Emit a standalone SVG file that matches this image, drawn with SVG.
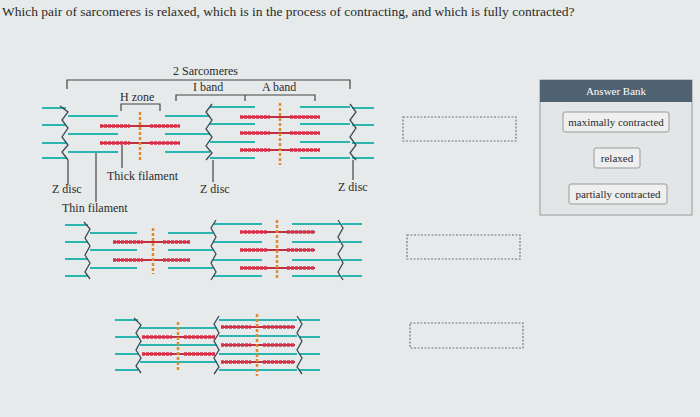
<svg xmlns="http://www.w3.org/2000/svg" width="700" height="417" viewBox="0 0 700 417">
<style>
text{font-family:"Liberation Serif",serif;fill:#2a2a2a}
.lbl{font-size:12px}
.br{fill:none;stroke:#444;stroke-width:1.2}
.thin{stroke:#2bb5b0;stroke-width:2.2}
.thick{stroke:#d8304a;stroke-width:3.6;stroke-dasharray:3 1}
.thickc{stroke:#c03040;stroke-width:1.8}
.m{stroke:#e08a30;stroke-width:2.5;stroke-dasharray:3 2}
.z{fill:none;stroke:#3a4a55;stroke-width:1.3}
.slot{fill:none;stroke:#777;stroke-width:1.2;stroke-dasharray:2 1.5}
.item{fill:#efefef;stroke:#999;stroke-width:1}
</style>
<rect width="700" height="417" fill="#e6eaeb"/>
<text x="2" y="16" font-size="13.5">Which pair of sarcomeres is relaxed, which is in the process of contracting, and which is fully contracted?</text>
<g id="labels">
<path class="br" d="M67 89V80H350V89M176 101V95H315V101M245 95V101M121 111V104H160V111"/>
<text class="lbl" x="173" y="75">2 Sarcomeres</text>
<text class="lbl" x="193" y="91">I band</text>
<text class="lbl" x="262" y="91">A band</text>
<text class="lbl" x="120" y="101">H zone</text>
<text class="lbl" x="107" y="180">Thick filament</text>
<text class="lbl" x="52" y="193">Z disc</text>
<text class="lbl" x="62" y="212">Thin filament</text>
<text class="lbl" x="200" y="193">Z disc</text>
<text class="lbl" x="338" y="191">Z disc</text>
<path class="br" d="M122 168V145M68 185V160M96 202V152M213 182V160M353 180V160"/>
</g>
<g id="sarcomere-top">
<path class="thin" d="M42 108H66M42 125H66M42 143H66M42 158H66M68 116H118M68 134H118M68 152H118M210 116H165M210 134H165M210 152H165M210 107H255M210 124H255M210 142H255M210 158H255M350 107H300M350 124H300M350 142H300M350 158H300M352 108H374M352 125H374M352 143H374M352 158H374"/>
<path class="thickc" d="M100 126H180M100 143H180M240 117H320M240 133H320M240 150H320"/>
<path class="thick" d="M100 126H130M150 126H180M100 143H130M150 143H180M240 117H270M290 117H320M240 133H270M290 133H320M240 150H270M290 150H320"/>
<path class="m" d="M140 112V162M280 103V165"/>
<path class="z" d="M60 106L68 112L62 120L68 128L62 137L68 145L62 152L68 160M212 104L206 112L212 120L206 129L212 137L206 146L212 153L206 160M350 104L356 112L350 120L356 128L350 137L356 145L350 153L356 160"/>
</g>
<g id="sarcomere-middle">
<path class="thin" d="M65 225H88M65 242H88M65 259H88M65 276H88M90 233H137M90 250H137M90 268H137M213 233H168M213 250H168M213 268H168M213 224H262M213 242H262M213 260H262M213 276H262M340 224H292M340 242H292M340 260H292M340 276H292M342 224H362M342 242H362M342 260H362M342 276H362"/>
<path class="thickc" d="M113 242H190M113 260H190M240 232H315M240 250H315M240 268H315"/>
<path class="thick" d="M113 242H143M163 242H190M113 260H143M163 260H190M240 232H268M287 232H315M240 250H268M287 250H315M240 268H268M287 268H315"/>
<path class="m" d="M153 228V274M277 220V280"/>
<path class="z" d="M84 222L90 229L85 238L90 246L85 255L90 263L85 272L90 279M216 220L211 228L216 237L211 246L216 254L211 263L216 272L211 280M338 220L343 228L338 237L343 246L338 254L343 263L338 272L343 280"/>
</g>
<g id="sarcomere-bottom">
<path class="thin" d="M115 320H138M115 337H138M115 354H138M115 370H138M140 328H190M140 345H190M140 362H190M217 328H166M217 345H166M217 362H166M219 320H272M219 336H272M219 354H272M219 370H272M297 320H245M297 336H245M297 354H245M297 370H245M299 320H320M299 337H320M299 354H320M299 370H320"/>
<path class="thickc" d="M142 337H215M142 354H215M221 327H295M221 345H295M221 362H295"/>
<path class="thick" d="M142 337H172M184 337H215M142 354H172M184 354H215M221 327H251M263 327H295M221 345H251M263 345H295M221 362H251M263 362H295"/>
<path class="m" d="M178 322V372M257 314V376"/>
<path class="z" d="M134 318L141 325L136 333L141 341L136 350L141 358L136 366L141 373M219 316L214 324L219 333L214 341L219 350L214 358L219 367L214 374M297 316L302 324L297 333L302 341L297 350L302 358L297 367L302 374"/>
</g>
<g id="answer-slots">
<rect class="slot" x="403" y="117" width="113" height="24"/>
<rect class="slot" x="407" y="235" width="113" height="24"/>
<rect class="slot" x="410" y="323" width="113" height="25"/>
</g>
<g id="answer-bank">
<rect x="540" y="80" width="152" height="135" fill="#e3e6e7" stroke="#999"/>
<rect x="540" y="80" width="152" height="22" fill="#4e6272"/>
<text x="616" y="95" font-size="11" text-anchor="middle" style="fill:#fff">Answer Bank</text>
</g>
<g id="item-max"><rect class="item" x="563" y="112" width="106" height="20" rx="2"/><text x="616" y="126" font-size="11" text-anchor="middle">maximally contracted</text></g>
<g id="item-relaxed"><rect class="item" x="594" y="148" width="46" height="20" rx="2"/><text x="617" y="162" font-size="11" text-anchor="middle">relaxed</text></g>
<g id="item-partial"><rect class="item" x="569" y="184" width="98" height="20" rx="2"/><text x="618" y="198" font-size="11" text-anchor="middle">partially contracted</text></g>
</svg>
